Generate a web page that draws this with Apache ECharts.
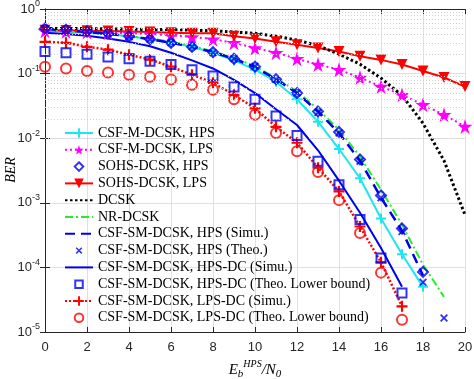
<!DOCTYPE html>
<html><head><meta charset="utf-8">
<script src="https://cdn.jsdelivr.net/npm/echarts@6/dist/echarts.min.js"></script>
<style>html,body{margin:0;padding:0;background:#fff}#c{width:474px;height:379px}</style>
</head><body><div id="c"></div>
<script>
// ---- data ----
var xTicks = [0, 2, 4, 6, 8, 10, 12, 14, 16, 18, 20];
var yTicks = [1e-5, 1e-4, 1e-3, 1e-2, 1e-1, 1];
var csfM_HPS   = [0.47,0.45,0.43,0.41,0.38,0.34,0.30,0.26,0.21,0.16,0.115,0.075,0.04,0.018,0.0068,0.0024,0.00057,0.00016,0.00005];
var csfM_LPS   = [0.46,0.45,0.44,0.43,0.42,0.41,0.39,0.37,0.34,0.30,0.25,0.21,0.17,0.138,0.115,0.087,0.063,0.047,0.033,0.023,0.0152];
var sohs_HPS   = [0.5,0.48,0.45,0.42,0.38,0.34,0.30,0.26,0.215,0.17,0.128,0.082,0.05,0.026,0.0125,0.0047,0.0013,0.0004,0.000085];
var sohs_LPS   = [0.47,0.465,0.46,0.455,0.45,0.44,0.43,0.42,0.42,0.38,0.35,0.31,0.28,0.25,0.22,0.185,0.163,0.138,0.11,0.087,0.063];
var dcsk       = [0.5,0.5,0.5,0.49,0.49,0.48,0.48,0.47,0.46,0.44,0.42,0.38,0.33,0.27,0.2,0.14,0.085,0.046,0.017,0.0045,0.00065];
var nrDcsk     = [0.46,0.45,0.43,0.41,0.38,0.35,0.31,0.27,0.22,0.175,0.13,0.085,0.053,0.028,0.0135,0.0052,0.0016,0.00046,0.00011,0.000035];
var sm_HPS_sim = [0.49,0.47,0.44,0.41,0.38,0.34,0.30,0.26,0.215,0.17,0.126,0.082,0.05,0.026,0.012,0.0045,0.0012,0.00037,0.000075];
var sm_HPS_th  = [0.5,0.47,0.45,0.42,0.37,0.34,0.30,0.26,0.21,0.17,0.13,0.08,0.05,0.025,0.012,0.0044,0.0012,0.00036,0.000059,0.0000165];
var sm_HPSDC_sim = [0.43,0.41,0.385,0.35,0.31,0.265,0.21,0.16,0.12,0.08,0.05,0.028,0.016,0.0065,0.0022,0.0007,0.0002,0.00005];
var sm_HPSDC_th  = [0.22,0.21,0.2,0.18,0.17,0.155,0.138,0.115,0.092,0.062,0.04,0.022,0.011,0.0044,0.0019,0.00055,0.00014,0.00004];
var sm_LPSDC_sim = [0.31,0.30,0.26,0.235,0.196,0.165,0.128,0.096,0.072,0.047,0.029,0.015,0.0085,0.0035,0.0015,0.00043,0.00012,0.000025];
var sm_LPSDC_th  = [0.128,0.12,0.11,0.104,0.096,0.089,0.081,0.067,0.056,0.04,0.023,0.012,0.0063,0.003,0.0011,0.00034,0.000083,0.0000155];
var names = ['CSF-M-DCSK, HPS','CSF-M-DCSK, LPS','SOHS-DCSK, HPS','SOHS-DCSK, LPS','DCSK','NR-DCSK',
  'CSF-SM-DCSK, HPS (Simu.)','CSF-SM-DCSK, HPS (Theo.)','CSF-SM-DCSK, HPS-DC (Simu.)',
  'CSF-SM-DCSK, HPS-DC (Theo. Lower bound)','CSF-SM-DCSK, LPS-DC (Simu.)','CSF-SM-DCSK, LPS-DC (Theo. Lower bound)'];

function pts(arr){ return arr.map(function(v,i){ return [i, v]; }); }
var minorLines = [];
for (var k = -5; k < 0; k++) for (var m = 2; m <= 9; m++) minorLines.push({yAxis: m * Math.pow(10, k)});

var PLUS = 'path://M4,0L6,0L6,4L10,4L10,6L6,6L6,10L4,10L4,6L0,6L0,4L4,4Z';
var CROSS = 'path://M0,1.6L1.6,0L5,3.4L8.4,0L10,1.6L6.6,5L10,8.4L8.4,10L5,6.6L1.6,10L0,8.4L3.4,5Z';
var STAR = 'path://M50,0L61,35L98,35L68,57L79,91L50,70L21,91L32,57L2,35L39,35Z';
var DIAM = 'path://M5,0L10,5L5,10L0,5Z';
var SQR = 'path://M0,0L10,0L10,10L0,10Z';
var CIRC = 'path://M10,5A5,5,0,1,1,0,5A5,5,0,1,1,10,5Z';
function pad(p, a, b){ return 'path://M' + a + ',' + a + 'M' + b + ',' + b + p.slice(7); }
var BLUE = '#0000f0';

function lineS(name, data, color, type, width, symbol, size, extra){
  var s = {name:name, type:'line', data:pts(data), z:3, symbol:symbol || 'none', symbolSize:size || 0,
    showSymbol: !!symbol, lineStyle:{color:color, width:width, type:type}, itemStyle:{color:color},
    emphasis:{disabled:true}, animation:false};
  for (var key in extra) s[key] = extra[key];
  return s;
}
function scat(name, data, symbol, size, color, hollow){
  return {name:name, type:'scatter', data:pts(data), z:4, symbol:symbol, symbolSize:size,
    itemStyle: hollow ? {color:'rgba(255,255,255,0)', borderColor:color, borderWidth:2} : {color:color},
    emphasis:{disabled:true}, animation:false};
}

var series = [
  {name:'grid-minor', type:'line', data:[], z:1, silent:true, animation:false,
   markLine:{silent:true, symbol:'none', animation:false, label:{show:false},
     lineStyle:{color:'#cfcfcf', type:[1,2], width:1}, data:minorLines}},
  lineS(names[0], csfM_HPS, '#1ee6f0', 'solid', 2, PLUS, 10),
  lineS(names[1], csfM_LPS, '#ff00ff', [2,3], 2, STAR, 15),
  scat(names[2], sohs_HPS, DIAM, 10, BLUE, true),
  lineS(names[3], sohs_LPS, '#ff0000', 'solid', 2, 'triangle', 11, {symbolRotate:180}),
  lineS(names[4], dcsk, '#000000', [2.5,2.5], 3),
  lineS(names[5], nrDcsk, '#22ee22', [8,3,2,3], 2),
  lineS(names[6], sm_HPS_sim, BLUE, [10,6], 2.5),
  scat(names[7], sm_HPS_th, CROSS, 8, BLUE, false),
  lineS(names[8], sm_HPSDC_sim, BLUE, 'solid', 2),
  scat(names[9], sm_HPSDC_th, SQR, 9, BLUE, true),
  lineS(names[10], sm_LPSDC_sim, '#ff0000', [2,2], 2.5, PLUS, 11),
  scat(names[11], sm_LPSDC_th, CIRC, 10, '#ff0000', true)
];

var hide = {color:'rgba(0,0,0,0)', borderWidth:0, opacity:0};
var legendData = names.map(function(n, i){
  var d = {name:n};
  if (i === 2) d.icon = pad(DIAM, -2, 12);
  if (i === 7) d.icon = pad(CROSS, -4, 14);
  if (i === 9) d.icon = pad(SQR, -3, 13);
  if (i === 11) d.icon = pad(CIRC, -2, 12);
  if (i === 4 || i === 5 || i === 6 || i === 8) d.itemStyle = hide;
  return d;
});

var chart = echarts.init(document.getElementById('c'), null, {renderer:'canvas'});
chart.setOption({
  backgroundColor:'#ffffff',
  animation:false,
  grid:{left:45, right:9, top:9, bottom:47, show:false, containLabel:false, outerBoundsMode:'none'},
  graphic:[{type:'text', x:11, y:170, rotation:Math.PI/2, silent:true,
    style:{text:'BER', fontFamily:'Liberation Serif', fontStyle:'italic', fontSize:14, fill:'#000',
           align:'center', verticalAlign:'middle'}}],
  legend:{orient:'vertical', left:59, top:121, itemWidth:28, itemHeight:12, itemGap:2.8,
    data:legendData, selectedMode:false, symbolKeepAspect:true, symbolRotate:'inherit',
    textStyle:{fontFamily:'Liberation Serif', fontSize:14, lineHeight:12, color:'#000'}},
  xAxis:[
    {type:'value', min:0, max:20, interval:2, position:'bottom',
     axisLine:{show:true, lineStyle:{color:'#262626', width:1}},
     axisTick:{show:true, inside:true, length:5, lineStyle:{color:'#262626'}},
     axisLabel:{color:'#262626', fontFamily:'Liberation Sans', fontSize:13, margin:9},
     splitLine:{show:true, lineStyle:{color:'#e0e0e0', width:1}},
     name:'{i|E}{sub|b}{sup|HPS}{i|/N}{sub|0}', nameLocation:'middle', nameGap:25,
     nameTextStyle:{rich:{
       i:{fontFamily:'Liberation Serif', fontStyle:'italic', fontSize:15, color:'#000'},
       sub:{fontFamily:'Liberation Serif', fontStyle:'italic', fontSize:11, color:'#000', padding:[8,0,0,0]},
       sup:{fontFamily:'Liberation Serif', fontStyle:'italic', fontSize:10, color:'#000', padding:[0,0,12,0]}}}},
    {type:'value', min:0, max:20, interval:2, position:'top',
     axisLine:{show:true, lineStyle:{color:'#262626', width:1}},
     axisTick:{show:true, inside:true, length:5, lineStyle:{color:'#262626'}},
     axisLabel:{show:false}, splitLine:{show:false}}
  ],
  yAxis:[
    {type:'log', logBase:10, min:1e-5, max:1, position:'left',
     axisLine:{show:true, lineStyle:{color:'#262626', width:1}},
     axisTick:{show:true, inside:true, length:5, lineStyle:{color:'#262626'}},
     minorTick:{show:false},
     splitLine:{show:true, lineStyle:{color:'#e0e0e0', width:1}},
     axisLabel:{margin:5, formatter:function(v){
        var e = Math.round(Math.log(v)/Math.LN10);
        return '{b|10}{s|' + (e < 0 ? '-' + (-e) : e) + '}'; },
       rich:{b:{fontFamily:'Liberation Sans', fontSize:13, color:'#262626'},
             s:{fontFamily:'Liberation Sans', fontSize:9, color:'#262626', padding:[0,0,10,0]}}}},
    {type:'log', logBase:10, min:1e-5, max:1, position:'right',
     axisLine:{show:true, lineStyle:{color:'#262626', width:1}},
     axisTick:{show:true, inside:true, length:5, lineStyle:{color:'#262626'}},
     axisLabel:{show:false}, splitLine:{show:false}}
  ],
  series: series
});
</script></body></html>
